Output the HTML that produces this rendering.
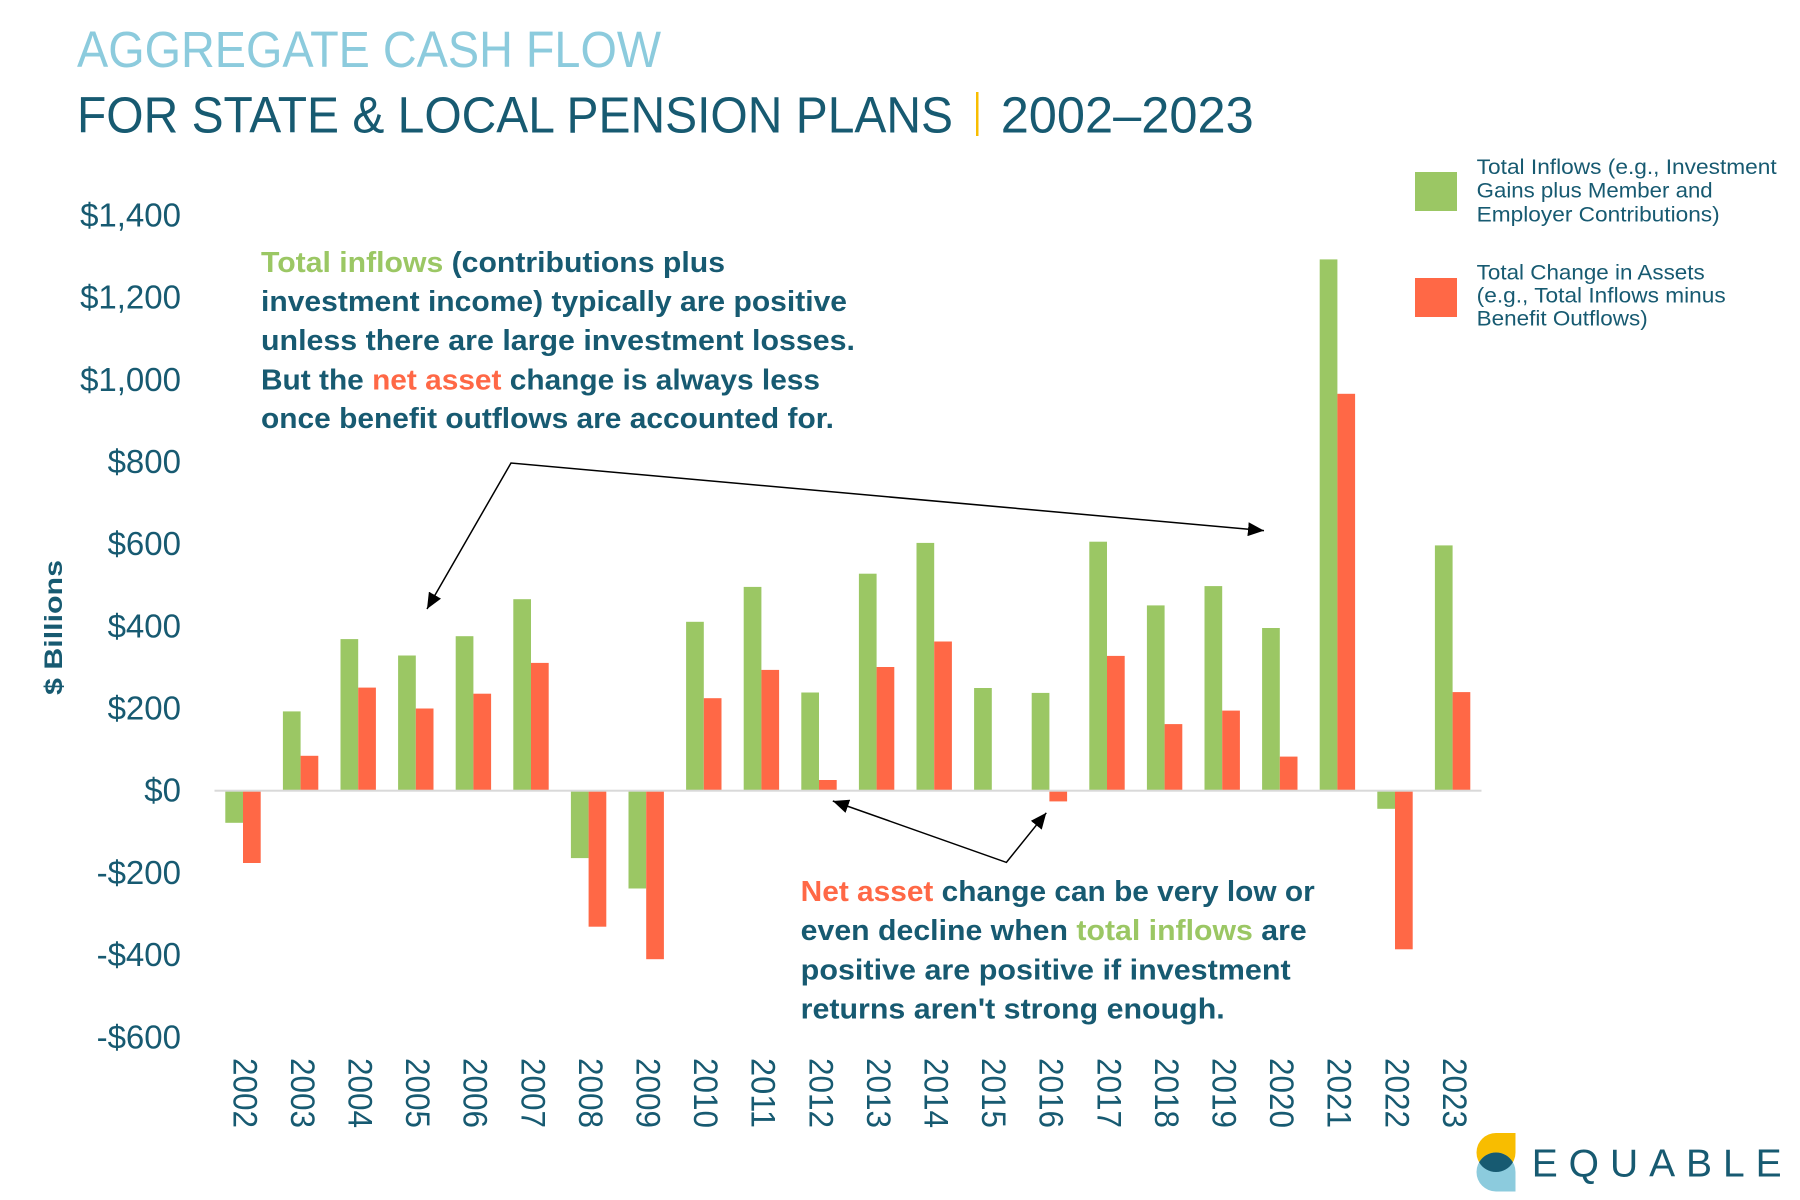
<!DOCTYPE html>
<html><head><meta charset="utf-8"><style>
html,body{margin:0;padding:0;background:#fff;}
svg{display:block;}
text{font-family:"Liberation Sans",sans-serif;}
</style></head><body>
<svg width="1800" height="1200" viewBox="0 0 1800 1200" xmlns="http://www.w3.org/2000/svg">
<defs>
<marker id="ah" viewBox="0 0 16 14" refX="16" refY="7" markerWidth="16" markerHeight="14" orient="auto-start-reverse" markerUnits="userSpaceOnUse"><path d="M0,0 L16,7 L0,14 z" fill="#000"/></marker>
</defs>
<rect width="1800" height="1200" fill="#fff"/>
<!-- Title -->
<text x="77" y="67" font-size="51" fill="#8ccbdd" textLength="584" lengthAdjust="spacingAndGlyphs">AGGREGATE CASH FLOW</text>
<text x="77" y="132.3" font-size="51" fill="#175a71" textLength="876" lengthAdjust="spacingAndGlyphs">FOR STATE &amp; LOCAL PENSION PLANS</text>
<rect x="976" y="92" width="2.5" height="44" fill="#f8bd00"/>
<text x="1000.7" y="132.3" font-size="51" fill="#175a71" textLength="253" lengthAdjust="spacingAndGlyphs">2002–2023</text>

<!-- Y axis labels -->
<g font-size="33" fill="#175a71" text-anchor="end">
<text x="181" y="226.4">$1,400</text>
<text x="181" y="308.6">$1,200</text>
<text x="181" y="390.8">$1,000</text>
<text x="181" y="473.0">$800</text>
<text x="181" y="555.2">$600</text>
<text x="181" y="637.4">$400</text>
<text x="181" y="719.6">$200</text>
<text x="181" y="801.7">$0</text>
<text x="181" y="883.9">-$200</text>
<text x="181" y="966.1">-$400</text>
<text x="181" y="1048.3">-$600</text>
</g>
<text transform="translate(62,627.5) rotate(-90)" text-anchor="middle" font-size="25" font-weight="bold" fill="#175a71" textLength="135" lengthAdjust="spacingAndGlyphs">$ Billions</text>

<!-- Bars -->
<g fill="#9bc764">
<rect x="225.3" y="790.7" width="17.7" height="32.1"/>
<rect x="282.9" y="711.4" width="17.7" height="79.3"/>
<rect x="340.5" y="639.1" width="17.7" height="151.6"/>
<rect x="398.1" y="655.5" width="17.7" height="135.2"/>
<rect x="455.7" y="636.2" width="17.7" height="154.5"/>
<rect x="513.3" y="599.2" width="17.7" height="191.5"/>
<rect x="570.9" y="790.7" width="17.7" height="67.4"/>
<rect x="628.5" y="790.7" width="17.7" height="97.8"/>
<rect x="686.1" y="621.8" width="17.7" height="168.9"/>
<rect x="743.7" y="586.9" width="17.7" height="203.8"/>
<rect x="801.3" y="692.5" width="17.7" height="98.2"/>
<rect x="858.9" y="573.7" width="17.7" height="217.0"/>
<rect x="916.5" y="542.9" width="17.7" height="247.8"/>
<rect x="974.1" y="688.0" width="17.7" height="102.7"/>
<rect x="1031.7" y="692.9" width="17.7" height="97.8"/>
<rect x="1089.3" y="541.7" width="17.7" height="249.0"/>
<rect x="1146.9" y="605.4" width="17.7" height="185.3"/>
<rect x="1204.5" y="586.1" width="17.7" height="204.6"/>
<rect x="1262.1" y="628.0" width="17.7" height="162.7"/>
<rect x="1319.7" y="259.4" width="17.7" height="531.3"/>
<rect x="1377.3" y="790.7" width="17.7" height="18.1"/>
<rect x="1434.9" y="545.4" width="17.7" height="245.3"/>
</g>
<g fill="#ff6846">
<rect x="243.0" y="790.7" width="17.7" height="72.3"/>
<rect x="300.6" y="755.8" width="17.7" height="34.9"/>
<rect x="358.2" y="687.6" width="17.7" height="103.1"/>
<rect x="415.8" y="708.5" width="17.7" height="82.2"/>
<rect x="473.4" y="693.7" width="17.7" height="97.0"/>
<rect x="531.0" y="662.9" width="17.7" height="127.8"/>
<rect x="588.6" y="790.7" width="17.7" height="136.0"/>
<rect x="646.2" y="790.7" width="17.7" height="168.5"/>
<rect x="703.8" y="698.2" width="17.7" height="92.5"/>
<rect x="761.4" y="669.9" width="17.7" height="120.8"/>
<rect x="819.0" y="780.0" width="17.7" height="10.7"/>
<rect x="876.6" y="667.0" width="17.7" height="123.7"/>
<rect x="934.2" y="641.5" width="17.7" height="149.2"/>
<rect x="1049.4" y="790.7" width="17.7" height="10.7"/>
<rect x="1107.0" y="655.9" width="17.7" height="134.8"/>
<rect x="1164.6" y="724.1" width="17.7" height="66.6"/>
<rect x="1222.2" y="710.6" width="17.7" height="80.1"/>
<rect x="1279.8" y="756.6" width="17.7" height="34.1"/>
<rect x="1337.4" y="393.8" width="17.7" height="396.9"/>
<rect x="1395.0" y="790.7" width="17.7" height="158.6"/>
<rect x="1452.6" y="692.1" width="17.7" height="98.6"/>
</g>
<rect x="214.5" y="789.7" width="1267" height="2" fill="#d9d9d9"/>

<!-- X labels -->
<g font-size="34" fill="#175a71">
<text transform="translate(233.3,1058) rotate(90)" textLength="70" lengthAdjust="spacingAndGlyphs">2002</text>
<text transform="translate(290.9,1058) rotate(90)" textLength="70" lengthAdjust="spacingAndGlyphs">2003</text>
<text transform="translate(348.5,1058) rotate(90)" textLength="70" lengthAdjust="spacingAndGlyphs">2004</text>
<text transform="translate(406.1,1058) rotate(90)" textLength="70" lengthAdjust="spacingAndGlyphs">2005</text>
<text transform="translate(463.7,1058) rotate(90)" textLength="70" lengthAdjust="spacingAndGlyphs">2006</text>
<text transform="translate(521.3,1058) rotate(90)" textLength="70" lengthAdjust="spacingAndGlyphs">2007</text>
<text transform="translate(578.9,1058) rotate(90)" textLength="70" lengthAdjust="spacingAndGlyphs">2008</text>
<text transform="translate(636.5,1058) rotate(90)" textLength="70" lengthAdjust="spacingAndGlyphs">2009</text>
<text transform="translate(694.1,1058) rotate(90)" textLength="70" lengthAdjust="spacingAndGlyphs">2010</text>
<text transform="translate(751.7,1058) rotate(90)" textLength="70" lengthAdjust="spacingAndGlyphs">2011</text>
<text transform="translate(809.3,1058) rotate(90)" textLength="70" lengthAdjust="spacingAndGlyphs">2012</text>
<text transform="translate(866.9,1058) rotate(90)" textLength="70" lengthAdjust="spacingAndGlyphs">2013</text>
<text transform="translate(924.5,1058) rotate(90)" textLength="70" lengthAdjust="spacingAndGlyphs">2014</text>
<text transform="translate(982.1,1058) rotate(90)" textLength="70" lengthAdjust="spacingAndGlyphs">2015</text>
<text transform="translate(1039.7,1058) rotate(90)" textLength="70" lengthAdjust="spacingAndGlyphs">2016</text>
<text transform="translate(1097.3,1058) rotate(90)" textLength="70" lengthAdjust="spacingAndGlyphs">2017</text>
<text transform="translate(1154.9,1058) rotate(90)" textLength="70" lengthAdjust="spacingAndGlyphs">2018</text>
<text transform="translate(1212.5,1058) rotate(90)" textLength="70" lengthAdjust="spacingAndGlyphs">2019</text>
<text transform="translate(1270.1,1058) rotate(90)" textLength="70" lengthAdjust="spacingAndGlyphs">2020</text>
<text transform="translate(1327.7,1058) rotate(90)" textLength="70" lengthAdjust="spacingAndGlyphs">2021</text>
<text transform="translate(1385.3,1058) rotate(90)" textLength="70" lengthAdjust="spacingAndGlyphs">2022</text>
<text transform="translate(1442.9,1058) rotate(90)" textLength="70" lengthAdjust="spacingAndGlyphs">2023</text>
</g>

<!-- Top annotation -->
<g font-size="29" font-weight="bold" fill="#175a71">
<text x="261" y="272" textLength="464" lengthAdjust="spacingAndGlyphs"><tspan fill="#9bc764">Total inflows</tspan> (contributions plus</text>
<text x="261" y="311" textLength="586" lengthAdjust="spacingAndGlyphs">investment income) typically are positive</text>
<text x="261" y="350" textLength="594" lengthAdjust="spacingAndGlyphs">unless there are large investment losses.</text>
<text x="261" y="389.5" textLength="559" lengthAdjust="spacingAndGlyphs">But the <tspan fill="#ff6846">net asset</tspan> change is always less</text>
<text x="261" y="428" textLength="573" lengthAdjust="spacingAndGlyphs">once benefit outflows are accounted for.</text>
</g>

<!-- Bottom annotation -->
<g font-size="29" font-weight="bold" fill="#175a71">
<text x="800.7" y="901" textLength="514" lengthAdjust="spacingAndGlyphs"><tspan fill="#ff6846">Net asset</tspan> change can be very low or</text>
<text x="800.7" y="940.2" textLength="506" lengthAdjust="spacingAndGlyphs">even decline when <tspan fill="#9bc764">total inflows</tspan> are</text>
<text x="800.7" y="979.4" textLength="490" lengthAdjust="spacingAndGlyphs">positive are positive if investment</text>
<text x="800.7" y="1018.6" textLength="424" lengthAdjust="spacingAndGlyphs">returns aren't strong enough.</text>
</g>

<!-- Arrows -->
<polyline points="427,609 511,463 1264,530.6" fill="none" stroke="#000" stroke-width="1.5" marker-start="url(#ah)" marker-end="url(#ah)"/>
<polyline points="832.8,801 1006.4,862.4 1046.3,812.8" fill="none" stroke="#000" stroke-width="1.5" marker-start="url(#ah)" marker-end="url(#ah)"/>

<!-- Legend -->
<rect x="1415" y="172" width="42" height="39" fill="#9bc764"/>
<rect x="1415" y="278" width="42" height="39" fill="#ff6846"/>
<g font-size="21" fill="#175a71">
<text x="1476.7" y="174" textLength="300" lengthAdjust="spacingAndGlyphs">Total Inflows (e.g., Investment</text>
<text x="1476.7" y="197.5" textLength="236" lengthAdjust="spacingAndGlyphs">Gains plus Member and</text>
<text x="1476.7" y="221.5" textLength="243" lengthAdjust="spacingAndGlyphs">Employer Contributions)</text>
<text x="1476.7" y="279.3" textLength="228" lengthAdjust="spacingAndGlyphs">Total Change in Assets</text>
<text x="1476.7" y="302.7" textLength="249" lengthAdjust="spacingAndGlyphs">(e.g., Total Inflows minus</text>
<text x="1476.7" y="325.7" textLength="171" lengthAdjust="spacingAndGlyphs">Benefit Outflows)</text>
</g>

<!-- Logo -->
<path d="M1515.5,1133 L1496,1133 A19.5,19.5 0 0 0 1476.5,1152.5 A19.5,19.5 0 0 0 1496,1172 A19.5,19.5 0 0 0 1515.5,1152.5 Z" fill="#f8bd00"/>
<path d="M1515.5,1191.5 L1496,1191.5 A19.5,19.5 0 0 1 1476.5,1172 A19.5,19.5 0 0 1 1496,1152.5 A19.5,19.5 0 0 1 1515.5,1172 Z" fill="#8ccbdd"/>
<path d="M1479.1,1162.25 A19.5,19.5 0 0 1 1512.9,1162.25 A19.5,19.5 0 0 1 1479.1,1162.25 Z" fill="#175a71"/>
<text x="1531.7" y="1176.7" font-size="39" fill="#175a71" textLength="250" lengthAdjust="spacing">EQUABLE</text>
</svg>
</body></html>
